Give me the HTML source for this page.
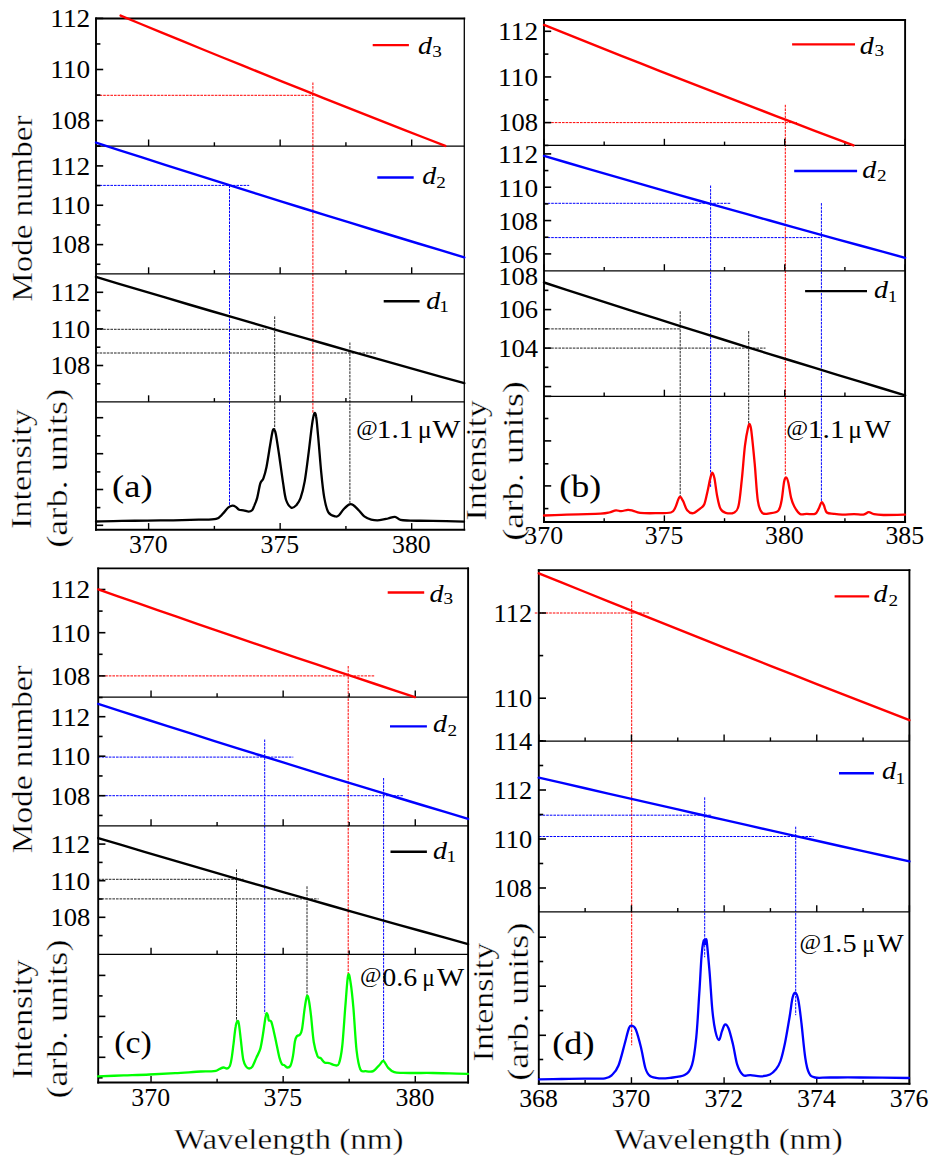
<!DOCTYPE html>
<html><head><meta charset="utf-8"><style>html,body{margin:0;padding:0;background:#fff;overflow:hidden}svg{display:block}</style></head>
<body><svg width="933" height="1162" viewBox="0 0 933 1162">
<rect width="933" height="1162" fill="#fff"/>
<line x1="96.00" y1="95.30" x2="312.90" y2="95.30" stroke="#ff0000" stroke-width="1.0" stroke-dasharray="2.6 1.0"/>
<line x1="312.90" y1="82.50" x2="312.90" y2="413.40" stroke="#ff0000" stroke-width="1.0" stroke-dasharray="2.6 1.0"/>
<line x1="96.00" y1="185.40" x2="249.20" y2="185.40" stroke="#0000ff" stroke-width="1.0" stroke-dasharray="2.6 1.0"/>
<line x1="229.50" y1="185.40" x2="229.50" y2="506.00" stroke="#0000ff" stroke-width="1.0" stroke-dasharray="2.6 1.0"/>
<line x1="96.00" y1="329.30" x2="266.50" y2="329.30" stroke="#222" stroke-width="1.0" stroke-dasharray="2.6 1.0"/>
<line x1="96.00" y1="353.00" x2="376.50" y2="353.00" stroke="#222" stroke-width="1.0" stroke-dasharray="2.6 1.0"/>
<line x1="274.70" y1="316.40" x2="274.70" y2="429.00" stroke="#222" stroke-width="1.0" stroke-dasharray="2.6 1.0"/>
<line x1="349.90" y1="342.50" x2="349.90" y2="503.00" stroke="#222" stroke-width="1.0" stroke-dasharray="2.6 1.0"/>
<line x1="96.00" y1="146.10" x2="464.30" y2="146.10" stroke="#000" stroke-width="1.3" />
<line x1="96.00" y1="273.90" x2="464.30" y2="273.90" stroke="#000" stroke-width="1.3" />
<line x1="96.00" y1="401.90" x2="464.30" y2="401.90" stroke="#000" stroke-width="1.3" />
<line x1="148.61" y1="146.10" x2="148.61" y2="139.50" stroke="#000" stroke-width="1.4" />
<line x1="280.15" y1="146.10" x2="280.15" y2="139.50" stroke="#000" stroke-width="1.4" />
<line x1="411.69" y1="146.10" x2="411.69" y2="139.50" stroke="#000" stroke-width="1.4" />
<line x1="214.38" y1="146.10" x2="214.38" y2="142.30" stroke="#000" stroke-width="1.4" />
<line x1="345.92" y1="146.10" x2="345.92" y2="142.30" stroke="#000" stroke-width="1.4" />
<line x1="148.61" y1="273.90" x2="148.61" y2="267.30" stroke="#000" stroke-width="1.4" />
<line x1="280.15" y1="273.90" x2="280.15" y2="267.30" stroke="#000" stroke-width="1.4" />
<line x1="411.69" y1="273.90" x2="411.69" y2="267.30" stroke="#000" stroke-width="1.4" />
<line x1="214.38" y1="273.90" x2="214.38" y2="270.10" stroke="#000" stroke-width="1.4" />
<line x1="345.92" y1="273.90" x2="345.92" y2="270.10" stroke="#000" stroke-width="1.4" />
<line x1="148.61" y1="401.90" x2="148.61" y2="395.30" stroke="#000" stroke-width="1.4" />
<line x1="280.15" y1="401.90" x2="280.15" y2="395.30" stroke="#000" stroke-width="1.4" />
<line x1="411.69" y1="401.90" x2="411.69" y2="395.30" stroke="#000" stroke-width="1.4" />
<line x1="214.38" y1="401.90" x2="214.38" y2="398.10" stroke="#000" stroke-width="1.4" />
<line x1="345.92" y1="401.90" x2="345.92" y2="398.10" stroke="#000" stroke-width="1.4" />
<line x1="148.61" y1="529.70" x2="148.61" y2="523.10" stroke="#000" stroke-width="1.4" />
<line x1="280.15" y1="529.70" x2="280.15" y2="523.10" stroke="#000" stroke-width="1.4" />
<line x1="411.69" y1="529.70" x2="411.69" y2="523.10" stroke="#000" stroke-width="1.4" />
<line x1="214.38" y1="529.70" x2="214.38" y2="525.90" stroke="#000" stroke-width="1.4" />
<line x1="345.92" y1="529.70" x2="345.92" y2="525.90" stroke="#000" stroke-width="1.4" />
<line x1="96.00" y1="18.50" x2="464.30" y2="18.50" stroke="#000" stroke-width="1.9" stroke-linecap="square"/>
<line x1="96.00" y1="529.70" x2="464.30" y2="529.70" stroke="#000" stroke-width="1.9" stroke-linecap="square"/>
<line x1="96.00" y1="18.50" x2="96.00" y2="529.70" stroke="#000" stroke-width="1.9" stroke-linecap="square"/>
<line x1="464.30" y1="18.50" x2="464.30" y2="529.70" stroke="#000" stroke-width="1.3" stroke-linecap="square"/>
<line x1="96.00" y1="18.40" x2="103.20" y2="18.40" stroke="#000" stroke-width="1.6" />
<line x1="96.00" y1="69.50" x2="103.20" y2="69.50" stroke="#000" stroke-width="1.6" />
<line x1="96.00" y1="120.60" x2="103.20" y2="120.60" stroke="#000" stroke-width="1.6" />
<line x1="96.00" y1="43.95" x2="100.40" y2="43.95" stroke="#000" stroke-width="1.6" />
<line x1="96.00" y1="95.05" x2="100.40" y2="95.05" stroke="#000" stroke-width="1.6" />
<line x1="96.00" y1="146.15" x2="100.40" y2="146.15" stroke="#000" stroke-width="1.6" />
<line x1="96.00" y1="165.90" x2="103.20" y2="165.90" stroke="#000" stroke-width="1.6" />
<line x1="96.00" y1="205.25" x2="103.20" y2="205.25" stroke="#000" stroke-width="1.6" />
<line x1="96.00" y1="244.60" x2="103.20" y2="244.60" stroke="#000" stroke-width="1.6" />
<line x1="96.00" y1="146.23" x2="100.40" y2="146.23" stroke="#000" stroke-width="1.6" />
<line x1="96.00" y1="185.57" x2="100.40" y2="185.57" stroke="#000" stroke-width="1.6" />
<line x1="96.00" y1="224.93" x2="100.40" y2="224.93" stroke="#000" stroke-width="1.6" />
<line x1="96.00" y1="264.27" x2="100.40" y2="264.27" stroke="#000" stroke-width="1.6" />
<line x1="96.00" y1="292.30" x2="103.20" y2="292.30" stroke="#000" stroke-width="1.6" />
<line x1="96.00" y1="328.90" x2="103.20" y2="328.90" stroke="#000" stroke-width="1.6" />
<line x1="96.00" y1="365.50" x2="103.20" y2="365.50" stroke="#000" stroke-width="1.6" />
<line x1="96.00" y1="310.60" x2="100.40" y2="310.60" stroke="#000" stroke-width="1.6" />
<line x1="96.00" y1="347.20" x2="100.40" y2="347.20" stroke="#000" stroke-width="1.6" />
<line x1="96.00" y1="383.80" x2="100.40" y2="383.80" stroke="#000" stroke-width="1.6" />
<line x1="96.00" y1="417.70" x2="103.20" y2="417.70" stroke="#000" stroke-width="1.6" />
<line x1="96.00" y1="453.70" x2="103.20" y2="453.70" stroke="#000" stroke-width="1.6" />
<line x1="96.00" y1="489.50" x2="103.20" y2="489.50" stroke="#000" stroke-width="1.6" />
<line x1="96.00" y1="525.30" x2="103.20" y2="525.30" stroke="#000" stroke-width="1.6" />
<line x1="96.00" y1="435.80" x2="100.40" y2="435.80" stroke="#000" stroke-width="1.6" />
<line x1="96.00" y1="471.90" x2="100.40" y2="471.90" stroke="#000" stroke-width="1.6" />
<line x1="96.00" y1="507.60" x2="100.40" y2="507.60" stroke="#000" stroke-width="1.6" />
<text x="90.30" y="27.20" font-family="Liberation Serif" font-size="24.3" text-anchor="end" textLength="40.00" lengthAdjust="spacingAndGlyphs">112</text>
<text x="90.30" y="78.30" font-family="Liberation Serif" font-size="24.3" text-anchor="end" textLength="40.00" lengthAdjust="spacingAndGlyphs">110</text>
<text x="90.30" y="129.40" font-family="Liberation Serif" font-size="24.3" text-anchor="end" textLength="39.90" lengthAdjust="spacingAndGlyphs">108</text>
<text x="90.30" y="174.70" font-family="Liberation Serif" font-size="24.3" text-anchor="end" textLength="40.00" lengthAdjust="spacingAndGlyphs">112</text>
<text x="90.30" y="214.05" font-family="Liberation Serif" font-size="24.3" text-anchor="end" textLength="40.00" lengthAdjust="spacingAndGlyphs">110</text>
<text x="90.30" y="253.40" font-family="Liberation Serif" font-size="24.3" text-anchor="end" textLength="39.90" lengthAdjust="spacingAndGlyphs">108</text>
<text x="90.30" y="301.10" font-family="Liberation Serif" font-size="24.3" text-anchor="end" textLength="40.00" lengthAdjust="spacingAndGlyphs">112</text>
<text x="90.30" y="337.70" font-family="Liberation Serif" font-size="24.3" text-anchor="end" textLength="40.00" lengthAdjust="spacingAndGlyphs">110</text>
<text x="90.30" y="374.30" font-family="Liberation Serif" font-size="24.3" text-anchor="end" textLength="39.90" lengthAdjust="spacingAndGlyphs">108</text>
<text x="148.31" y="553.00" font-family="Liberation Serif" font-size="24.3" text-anchor="middle" textLength="38.70" lengthAdjust="spacingAndGlyphs">370</text>
<text x="279.85" y="553.00" font-family="Liberation Serif" font-size="24.3" text-anchor="middle" textLength="38.70" lengthAdjust="spacingAndGlyphs">375</text>
<text x="411.39" y="553.00" font-family="Liberation Serif" font-size="24.3" text-anchor="middle" textLength="38.70" lengthAdjust="spacingAndGlyphs">380</text>
<polyline points="120.60,15.60 140.89,24.00 161.19,32.36 181.48,40.69 201.78,48.99 222.07,57.25 242.36,65.47 262.66,73.66 282.95,81.82 303.24,89.95 323.54,98.04 343.83,106.10 364.12,114.12 384.42,122.12 404.71,130.08 425.01,138.00 445.30,145.90" fill="none" stroke="#ff0000" stroke-width="2.4" stroke-linecap="round"/>
<polyline points="96.00,142.60 119.02,150.03 142.04,157.43 165.06,164.79 188.07,172.11 211.09,179.40 234.11,186.66 257.13,193.88 280.15,201.07 303.17,208.23 326.19,215.35 349.21,222.44 372.23,229.50 395.24,236.52 418.26,243.51 441.28,250.47 464.30,257.40" fill="none" stroke="#0000ff" stroke-width="2.4" stroke-linecap="round"/>
<polyline points="96.00,276.90 119.02,283.78 142.04,290.63 165.06,297.44 188.07,304.23 211.09,310.98 234.11,317.70 257.13,324.39 280.15,331.04 303.17,337.67 326.19,344.26 349.21,350.83 372.23,357.36 395.24,363.87 418.26,370.34 441.28,376.79 464.30,383.20" fill="none" stroke="#000" stroke-width="2.4" stroke-linecap="round"/>
<line x1="372.70" y1="45.10" x2="408.90" y2="45.10" stroke="#ff0000" stroke-width="2.4" />
<text x="417.90" y="53.60" font-family="Liberation Serif" font-size="24.5" textLength="14.00" lengthAdjust="spacingAndGlyphs" font-style="italic">d</text>
<text x="432.20" y="56.80" font-family="Liberation Serif" font-size="17" textLength="9.60" lengthAdjust="spacingAndGlyphs">3</text>
<line x1="377.30" y1="177.50" x2="413.70" y2="177.50" stroke="#0000ff" stroke-width="2.4" />
<text x="422.20" y="184.10" font-family="Liberation Serif" font-size="24.5" textLength="14.00" lengthAdjust="spacingAndGlyphs" font-style="italic">d</text>
<text x="436.20" y="187.80" font-family="Liberation Serif" font-size="17" textLength="9.60" lengthAdjust="spacingAndGlyphs">2</text>
<line x1="383.70" y1="301.20" x2="419.60" y2="301.20" stroke="#000" stroke-width="2.4" />
<text x="426.30" y="308.90" font-family="Liberation Serif" font-size="24.5" textLength="14.00" lengthAdjust="spacingAndGlyphs" font-style="italic">d</text>
<text x="439.30" y="311.90" font-family="Liberation Serif" font-size="17" textLength="9.60" lengthAdjust="spacingAndGlyphs">1</text>
<text x="356.34" y="434.50" font-family="Liberation Serif" font-size="22" textLength="21.50" lengthAdjust="spacingAndGlyphs">@</text>
<text x="376.74" y="438.10" font-family="Liberation Serif" font-size="26" textLength="36.65" lengthAdjust="spacingAndGlyphs">1.1</text>
<text x="417.68" y="438.10" font-family="Liberation Serif" font-size="26" textLength="14.08" lengthAdjust="spacingAndGlyphs">μ</text>
<text x="432.60" y="438.10" font-family="Liberation Serif" font-size="26" textLength="27.89" lengthAdjust="spacingAndGlyphs">W</text>
<text x="112.06" y="496.90" font-family="Liberation Serif" font-size="32" textLength="40.57" lengthAdjust="spacingAndGlyphs">(a)</text>
<text transform="translate(32.20,301.70) rotate(-90)" x="0" y="0" font-family="Liberation Serif" font-size="29.5" textLength="186.10" lengthAdjust="spacingAndGlyphs" stroke="#fff" stroke-width="0.35">Mode number</text>
<text transform="translate(31.00,529.10) rotate(-90)" x="0" y="0" font-family="Liberation Serif" font-size="28.5" textLength="120.10" lengthAdjust="spacingAndGlyphs" stroke="#fff" stroke-width="0.35">Intensity</text>
<text transform="translate(66.60,547.80) rotate(-90)" x="0" y="0" font-family="Liberation Serif" font-size="28.5" textLength="159.10" lengthAdjust="spacingAndGlyphs" stroke="#fff" stroke-width="0.35">(arb. units)</text>
<path d="M96.0,521.5 C100.3,521.4 113.1,521.0 121.7,520.9 C130.3,520.8 138.9,520.7 147.5,520.6 C156.1,520.5 164.6,520.4 173.2,520.3 C181.8,520.1 191.8,519.9 198.9,519.7 C206.1,519.5 212.1,519.9 216.1,518.9 C220.1,517.9 220.9,515.6 222.9,513.7 C224.9,511.8 226.5,509.0 228.1,507.7 C229.7,506.4 231.1,505.8 232.4,505.7 C233.7,505.6 234.7,506.2 235.8,506.9 C236.9,507.6 237.9,509.2 239.2,509.8 C240.5,510.4 241.9,510.0 243.5,510.3 C245.1,510.6 247.3,511.7 248.7,511.7 C250.1,511.7 251.2,511.2 252.1,510.3 C253.0,509.4 253.2,508.2 254.1,506.1 C254.9,504.0 256.2,501.7 257.2,497.9 C258.2,494.1 259.3,486.7 260.3,483.4 C261.3,480.1 262.4,481.1 263.4,478.3 C264.4,475.6 265.5,471.9 266.5,466.9 C267.5,461.9 268.7,454.0 269.6,448.3 C270.6,442.6 271.5,436.1 272.2,432.9 C272.9,429.7 273.3,429.1 273.9,429.3 C274.5,429.5 275.0,429.9 275.8,433.9 C276.6,437.9 277.7,445.4 278.9,453.5 C280.1,461.6 281.8,474.6 283.0,482.4 C284.2,490.1 284.7,495.8 286.1,500.0 C287.5,504.2 289.6,506.8 291.3,507.7 C293.0,508.6 294.8,506.7 296.4,505.1 C297.9,503.5 299.2,501.8 300.6,497.9 C302.0,493.9 303.3,489.1 304.7,481.4 C306.1,473.6 307.6,460.7 308.8,451.4 C310.0,442.1 311.0,431.9 311.9,425.6 C312.8,419.3 313.5,415.3 314.2,413.8 C314.9,412.3 315.5,412.7 316.1,416.4 C316.8,420.1 317.2,426.7 318.1,436.0 C319.0,445.3 320.2,461.8 321.2,472.1 C322.2,482.4 323.1,491.2 324.3,497.9 C325.5,504.6 326.5,509.2 328.4,512.3 C330.3,515.4 333.9,516.0 335.7,516.5 C337.5,517.0 337.9,516.2 339.2,515.0 C340.5,513.8 341.8,511.2 343.4,509.5 C345.0,507.8 347.3,505.4 348.9,504.6 C350.5,503.8 351.5,504.0 353.1,504.9 C354.7,505.8 356.8,508.3 358.7,510.2 C360.6,512.1 362.2,514.8 364.3,516.4 C366.4,518.0 368.6,519.0 371.2,519.6 C373.8,520.2 376.8,520.4 379.6,520.2 C382.4,520.0 385.4,519.1 388.0,518.5 C390.6,517.9 392.8,516.6 394.9,516.8 C397.0,517.0 397.9,519.3 400.5,519.9 C403.1,520.5 404.9,520.4 410.2,520.6 C415.5,520.8 423.5,520.7 432.5,520.9 C441.5,521.1 458.8,521.5 464.0,521.6" fill="none" stroke="#000" stroke-width="2.3" stroke-linejoin="round" stroke-linecap="round"/>
<line x1="544.00" y1="122.60" x2="796.90" y2="122.60" stroke="#ff0000" stroke-width="1.0" stroke-dasharray="2.6 1.0"/>
<line x1="785.30" y1="104.80" x2="785.30" y2="474.50" stroke="#ff0000" stroke-width="1.0" stroke-dasharray="2.6 1.0"/>
<line x1="544.00" y1="203.30" x2="731.10" y2="203.30" stroke="#0000ff" stroke-width="1.0" stroke-dasharray="2.6 1.0"/>
<line x1="544.00" y1="237.60" x2="821.40" y2="237.60" stroke="#0000ff" stroke-width="1.0" stroke-dasharray="2.6 1.0"/>
<line x1="710.60" y1="185.50" x2="710.60" y2="487.70" stroke="#0000ff" stroke-width="1.0" stroke-dasharray="2.6 1.0"/>
<line x1="821.40" y1="203.10" x2="821.40" y2="503.40" stroke="#0000ff" stroke-width="1.0" stroke-dasharray="2.6 1.0"/>
<line x1="544.00" y1="328.90" x2="680.20" y2="328.90" stroke="#222" stroke-width="1.0" stroke-dasharray="2.6 1.0"/>
<line x1="544.00" y1="348.10" x2="765.50" y2="348.10" stroke="#222" stroke-width="1.0" stroke-dasharray="2.6 1.0"/>
<line x1="680.20" y1="311.30" x2="680.20" y2="497.30" stroke="#222" stroke-width="1.0" stroke-dasharray="2.6 1.0"/>
<line x1="748.70" y1="331.10" x2="748.70" y2="424.60" stroke="#222" stroke-width="1.0" stroke-dasharray="2.6 1.0"/>
<line x1="544.00" y1="145.40" x2="905.10" y2="145.40" stroke="#000" stroke-width="1.3" />
<line x1="544.00" y1="270.80" x2="905.10" y2="270.80" stroke="#000" stroke-width="1.3" />
<line x1="544.00" y1="396.30" x2="905.10" y2="396.30" stroke="#000" stroke-width="1.3" />
<line x1="544.00" y1="145.40" x2="544.00" y2="138.80" stroke="#000" stroke-width="1.4" />
<line x1="664.37" y1="145.40" x2="664.37" y2="138.80" stroke="#000" stroke-width="1.4" />
<line x1="784.73" y1="145.40" x2="784.73" y2="138.80" stroke="#000" stroke-width="1.4" />
<line x1="905.10" y1="145.40" x2="905.10" y2="138.80" stroke="#000" stroke-width="1.4" />
<line x1="604.18" y1="145.40" x2="604.18" y2="141.60" stroke="#000" stroke-width="1.4" />
<line x1="724.55" y1="145.40" x2="724.55" y2="141.60" stroke="#000" stroke-width="1.4" />
<line x1="844.92" y1="145.40" x2="844.92" y2="141.60" stroke="#000" stroke-width="1.4" />
<line x1="544.00" y1="270.80" x2="544.00" y2="264.20" stroke="#000" stroke-width="1.4" />
<line x1="664.37" y1="270.80" x2="664.37" y2="264.20" stroke="#000" stroke-width="1.4" />
<line x1="784.73" y1="270.80" x2="784.73" y2="264.20" stroke="#000" stroke-width="1.4" />
<line x1="905.10" y1="270.80" x2="905.10" y2="264.20" stroke="#000" stroke-width="1.4" />
<line x1="604.18" y1="270.80" x2="604.18" y2="267.00" stroke="#000" stroke-width="1.4" />
<line x1="724.55" y1="270.80" x2="724.55" y2="267.00" stroke="#000" stroke-width="1.4" />
<line x1="844.92" y1="270.80" x2="844.92" y2="267.00" stroke="#000" stroke-width="1.4" />
<line x1="544.00" y1="396.30" x2="544.00" y2="389.70" stroke="#000" stroke-width="1.4" />
<line x1="664.37" y1="396.30" x2="664.37" y2="389.70" stroke="#000" stroke-width="1.4" />
<line x1="784.73" y1="396.30" x2="784.73" y2="389.70" stroke="#000" stroke-width="1.4" />
<line x1="905.10" y1="396.30" x2="905.10" y2="389.70" stroke="#000" stroke-width="1.4" />
<line x1="604.18" y1="396.30" x2="604.18" y2="392.50" stroke="#000" stroke-width="1.4" />
<line x1="724.55" y1="396.30" x2="724.55" y2="392.50" stroke="#000" stroke-width="1.4" />
<line x1="844.92" y1="396.30" x2="844.92" y2="392.50" stroke="#000" stroke-width="1.4" />
<line x1="544.00" y1="522.00" x2="544.00" y2="515.40" stroke="#000" stroke-width="1.4" />
<line x1="664.37" y1="522.00" x2="664.37" y2="515.40" stroke="#000" stroke-width="1.4" />
<line x1="784.73" y1="522.00" x2="784.73" y2="515.40" stroke="#000" stroke-width="1.4" />
<line x1="905.10" y1="522.00" x2="905.10" y2="515.40" stroke="#000" stroke-width="1.4" />
<line x1="604.18" y1="522.00" x2="604.18" y2="518.20" stroke="#000" stroke-width="1.4" />
<line x1="724.55" y1="522.00" x2="724.55" y2="518.20" stroke="#000" stroke-width="1.4" />
<line x1="844.92" y1="522.00" x2="844.92" y2="518.20" stroke="#000" stroke-width="1.4" />
<line x1="544.00" y1="20.00" x2="905.10" y2="20.00" stroke="#000" stroke-width="1.9" stroke-linecap="square"/>
<line x1="544.00" y1="522.00" x2="905.10" y2="522.00" stroke="#000" stroke-width="1.9" stroke-linecap="square"/>
<line x1="544.00" y1="20.00" x2="544.00" y2="522.00" stroke="#000" stroke-width="1.9" stroke-linecap="square"/>
<line x1="905.10" y1="20.00" x2="905.10" y2="522.00" stroke="#000" stroke-width="1.9" stroke-linecap="square"/>
<line x1="544.00" y1="31.30" x2="551.20" y2="31.30" stroke="#000" stroke-width="1.6" />
<line x1="544.00" y1="76.95" x2="551.20" y2="76.95" stroke="#000" stroke-width="1.6" />
<line x1="544.00" y1="122.60" x2="551.20" y2="122.60" stroke="#000" stroke-width="1.6" />
<line x1="544.00" y1="54.12" x2="548.40" y2="54.12" stroke="#000" stroke-width="1.6" />
<line x1="544.00" y1="99.77" x2="548.40" y2="99.77" stroke="#000" stroke-width="1.6" />
<line x1="544.00" y1="145.43" x2="548.40" y2="145.43" stroke="#000" stroke-width="1.6" />
<line x1="544.00" y1="153.90" x2="551.20" y2="153.90" stroke="#000" stroke-width="1.6" />
<line x1="544.00" y1="187.23" x2="551.20" y2="187.23" stroke="#000" stroke-width="1.6" />
<line x1="544.00" y1="220.57" x2="551.20" y2="220.57" stroke="#000" stroke-width="1.6" />
<line x1="544.00" y1="253.90" x2="551.20" y2="253.90" stroke="#000" stroke-width="1.6" />
<line x1="544.00" y1="170.57" x2="548.40" y2="170.57" stroke="#000" stroke-width="1.6" />
<line x1="544.00" y1="203.90" x2="548.40" y2="203.90" stroke="#000" stroke-width="1.6" />
<line x1="544.00" y1="237.23" x2="548.40" y2="237.23" stroke="#000" stroke-width="1.6" />
<line x1="544.00" y1="309.60" x2="551.20" y2="309.60" stroke="#000" stroke-width="1.6" />
<line x1="544.00" y1="348.10" x2="551.20" y2="348.10" stroke="#000" stroke-width="1.6" />
<line x1="544.00" y1="386.60" x2="551.20" y2="386.60" stroke="#000" stroke-width="1.6" />
<line x1="544.00" y1="290.35" x2="548.40" y2="290.35" stroke="#000" stroke-width="1.6" />
<line x1="544.00" y1="328.85" x2="548.40" y2="328.85" stroke="#000" stroke-width="1.6" />
<line x1="544.00" y1="367.35" x2="548.40" y2="367.35" stroke="#000" stroke-width="1.6" />
<line x1="544.00" y1="396.30" x2="551.20" y2="396.30" stroke="#000" stroke-width="1.6" />
<line x1="544.00" y1="440.90" x2="551.20" y2="440.90" stroke="#000" stroke-width="1.6" />
<line x1="544.00" y1="485.90" x2="551.20" y2="485.90" stroke="#000" stroke-width="1.6" />
<line x1="544.00" y1="418.50" x2="548.40" y2="418.50" stroke="#000" stroke-width="1.6" />
<line x1="544.00" y1="463.80" x2="548.40" y2="463.80" stroke="#000" stroke-width="1.6" />
<line x1="544.00" y1="508.60" x2="548.40" y2="508.60" stroke="#000" stroke-width="1.6" />
<text x="538.10" y="40.10" font-family="Liberation Serif" font-size="24.3" text-anchor="end" textLength="40.00" lengthAdjust="spacingAndGlyphs">112</text>
<text x="538.10" y="85.75" font-family="Liberation Serif" font-size="24.3" text-anchor="end" textLength="40.00" lengthAdjust="spacingAndGlyphs">110</text>
<text x="538.10" y="131.40" font-family="Liberation Serif" font-size="24.3" text-anchor="end" textLength="39.90" lengthAdjust="spacingAndGlyphs">108</text>
<text x="538.10" y="163.40" font-family="Liberation Serif" font-size="24.3" text-anchor="end" textLength="40.00" lengthAdjust="spacingAndGlyphs">112</text>
<text x="538.10" y="196.73" font-family="Liberation Serif" font-size="24.3" text-anchor="end" textLength="40.00" lengthAdjust="spacingAndGlyphs">110</text>
<text x="538.10" y="230.07" font-family="Liberation Serif" font-size="24.3" text-anchor="end" textLength="39.90" lengthAdjust="spacingAndGlyphs">108</text>
<text x="538.10" y="263.40" font-family="Liberation Serif" font-size="24.3" text-anchor="end" textLength="39.90" lengthAdjust="spacingAndGlyphs">106</text>
<text x="538.10" y="284.90" font-family="Liberation Serif" font-size="24.3" text-anchor="end" textLength="39.90" lengthAdjust="spacingAndGlyphs">108</text>
<text x="538.10" y="318.40" font-family="Liberation Serif" font-size="24.3" text-anchor="end" textLength="39.90" lengthAdjust="spacingAndGlyphs">106</text>
<text x="538.10" y="356.90" font-family="Liberation Serif" font-size="24.3" text-anchor="end" textLength="39.90" lengthAdjust="spacingAndGlyphs">104</text>
<text x="543.70" y="543.90" font-family="Liberation Serif" font-size="24.3" text-anchor="middle" textLength="38.70" lengthAdjust="spacingAndGlyphs">370</text>
<text x="664.07" y="543.90" font-family="Liberation Serif" font-size="24.3" text-anchor="middle" textLength="38.70" lengthAdjust="spacingAndGlyphs">375</text>
<text x="784.43" y="543.90" font-family="Liberation Serif" font-size="24.3" text-anchor="middle" textLength="38.70" lengthAdjust="spacingAndGlyphs">380</text>
<text x="904.80" y="543.90" font-family="Liberation Serif" font-size="24.3" text-anchor="middle" textLength="38.70" lengthAdjust="spacingAndGlyphs">385</text>
<polyline points="544.00,24.90 563.34,32.68 582.69,40.42 602.03,48.13 621.38,55.80 640.72,63.45 660.06,71.06 679.41,78.63 698.75,86.18 718.09,93.69 737.44,101.17 756.78,108.62 776.12,116.04 795.47,123.43 814.81,130.78 834.16,138.11 853.50,145.40" fill="none" stroke="#ff0000" stroke-width="2.4" stroke-linecap="round"/>
<polyline points="544.00,155.90 566.57,162.51 589.14,169.09 611.71,175.63 634.27,182.14 656.84,188.62 679.41,195.07 701.98,201.48 724.55,207.86 747.12,214.21 769.69,220.53 792.26,226.82 814.83,233.08 837.39,239.30 859.96,245.50 882.53,251.66 905.10,257.80" fill="none" stroke="#0000ff" stroke-width="2.4" stroke-linecap="round"/>
<polyline points="544.00,282.50 566.57,289.82 589.14,297.10 611.71,304.34 634.27,311.55 656.84,318.72 679.41,325.86 701.98,332.96 724.55,340.02 747.12,347.05 769.69,354.05 792.26,361.01 814.83,367.93 837.39,374.82 859.96,381.68 882.53,388.51 905.10,395.30" fill="none" stroke="#000" stroke-width="2.4" stroke-linecap="round"/>
<line x1="792.10" y1="44.40" x2="855.00" y2="44.40" stroke="#ff0000" stroke-width="2.4" />
<text x="859.70" y="54.00" font-family="Liberation Serif" font-size="24.5" textLength="14.00" lengthAdjust="spacingAndGlyphs" font-style="italic">d</text>
<text x="874.60" y="56.20" font-family="Liberation Serif" font-size="17" textLength="9.60" lengthAdjust="spacingAndGlyphs">3</text>
<line x1="794.20" y1="171.00" x2="857.10" y2="171.00" stroke="#0000ff" stroke-width="2.4" />
<text x="862.20" y="177.70" font-family="Liberation Serif" font-size="24.5" textLength="14.00" lengthAdjust="spacingAndGlyphs" font-style="italic">d</text>
<text x="877.10" y="180.80" font-family="Liberation Serif" font-size="17" textLength="9.60" lengthAdjust="spacingAndGlyphs">2</text>
<line x1="805.10" y1="291.10" x2="867.00" y2="291.10" stroke="#000" stroke-width="2.4" />
<text x="874.10" y="297.50" font-family="Liberation Serif" font-size="24.5" textLength="14.00" lengthAdjust="spacingAndGlyphs" font-style="italic">d</text>
<text x="887.80" y="302.00" font-family="Liberation Serif" font-size="17" textLength="9.60" lengthAdjust="spacingAndGlyphs">1</text>
<text x="786.32" y="434.50" font-family="Liberation Serif" font-size="22" textLength="21.84" lengthAdjust="spacingAndGlyphs">@</text>
<text x="807.83" y="438.10" font-family="Liberation Serif" font-size="26" textLength="36.87" lengthAdjust="spacingAndGlyphs">1.1</text>
<text x="848.34" y="438.10" font-family="Liberation Serif" font-size="26" textLength="13.70" lengthAdjust="spacingAndGlyphs">μ</text>
<text x="864.40" y="438.10" font-family="Liberation Serif" font-size="26" textLength="26.31" lengthAdjust="spacingAndGlyphs">W</text>
<text x="559.17" y="496.90" font-family="Liberation Serif" font-size="32" textLength="42.00" lengthAdjust="spacingAndGlyphs">(b)</text>
<text transform="translate(486.30,520.60) rotate(-90)" x="0" y="0" font-family="Liberation Serif" font-size="28.5" textLength="120.20" lengthAdjust="spacingAndGlyphs" stroke="#fff" stroke-width="0.35">Intensity</text>
<text transform="translate(522.70,540.80) rotate(-90)" x="0" y="0" font-family="Liberation Serif" font-size="28.5" textLength="159.80" lengthAdjust="spacingAndGlyphs" stroke="#fff" stroke-width="0.35">(arb. units)</text>
<path d="M544.0,515.5 C546.9,515.4 555.5,515.1 561.2,514.9 C566.9,514.7 571.7,514.5 578.3,514.3 C584.9,514.1 595.5,514.0 600.6,513.7 C605.8,513.4 606.6,513.1 609.2,512.5 C611.8,511.9 614.0,510.5 616.0,510.3 C618.0,510.1 619.2,511.3 621.2,511.2 C623.2,511.1 626.0,509.9 628.0,509.8 C630.0,509.7 631.2,510.3 633.2,510.8 C635.2,511.3 636.4,512.5 640.1,512.9 C643.8,513.3 650.4,513.3 655.5,513.2 C660.6,513.1 667.6,513.4 670.9,512.5 C674.2,511.6 673.8,510.3 675.2,507.7 C676.6,505.1 678.2,498.2 679.5,497.1 C680.8,496.0 681.7,498.7 683.0,500.9 C684.3,503.1 685.5,508.2 687.2,510.3 C688.9,512.4 691.1,513.5 693.2,513.2 C695.4,512.9 698.2,510.1 700.1,508.6 C702.0,507.1 703.1,507.2 704.3,504.3 C705.5,501.4 706.5,495.8 707.5,491.5 C708.5,487.2 709.4,481.7 710.2,478.6 C711.0,475.5 711.6,472.7 712.3,472.7 C713.0,472.7 713.7,474.8 714.5,478.6 C715.3,482.4 716.1,490.7 717.1,495.7 C718.1,500.7 719.0,505.7 720.4,508.6 C721.8,511.5 723.4,512.3 725.7,512.9 C728.0,513.5 732.1,513.6 734.3,512.4 C736.4,511.1 737.4,510.8 738.6,505.4 C739.9,499.9 740.7,489.7 741.8,479.7 C742.9,469.7 743.9,454.2 745.0,445.4 C746.1,436.6 747.4,430.6 748.2,427.1 C749.0,423.6 749.3,423.8 749.8,424.5 C750.3,425.2 750.6,424.9 751.4,431.4 C752.2,437.9 753.6,452.0 754.7,463.6 C755.8,475.2 756.6,492.9 757.9,501.1 C759.1,509.3 760.2,510.8 762.2,512.9 C764.2,514.9 767.0,513.8 769.7,513.4 C772.4,513.0 776.2,512.9 778.2,510.8 C780.2,508.8 780.5,505.9 781.5,501.1 C782.5,496.3 783.3,485.7 784.1,481.8 C784.9,477.9 785.6,477.3 786.3,477.5 C787.0,477.7 787.6,479.5 788.4,482.9 C789.2,486.3 790.1,494.0 791.1,497.9 C792.1,501.8 792.8,503.8 794.3,506.5 C795.8,509.2 797.9,512.8 800.0,514.0 C802.1,515.2 804.3,513.9 806.8,513.9 C809.3,513.9 813.0,514.7 815.0,513.9 C817.0,513.1 817.5,510.8 818.6,508.9 C819.7,507.0 820.6,503.0 821.5,502.4 C822.4,501.8 823.0,503.7 823.9,505.4 C824.8,507.1 825.1,511.1 826.8,512.5 C828.5,513.9 831.3,513.5 833.9,513.9 C836.5,514.2 838.9,514.5 842.2,514.6 C845.6,514.7 850.5,514.2 854.0,514.2 C857.5,514.2 860.9,514.9 863.4,514.6 C865.9,514.3 866.9,512.3 868.7,512.2 C870.5,512.1 871.5,513.7 874.0,514.2 C876.5,514.7 878.2,514.9 883.4,515.0 C888.6,515.1 901.4,514.7 905.0,514.6" fill="none" stroke="#ff0000" stroke-width="2.3" stroke-linejoin="round" stroke-linecap="round"/>
<line x1="98.00" y1="675.90" x2="374.70" y2="675.90" stroke="#ff0000" stroke-width="1.0" stroke-dasharray="2.6 1.0"/>
<line x1="348.20" y1="666.00" x2="348.20" y2="974.20" stroke="#ff0000" stroke-width="1.0" stroke-dasharray="2.6 1.0"/>
<line x1="98.00" y1="757.10" x2="293.30" y2="757.10" stroke="#0000ff" stroke-width="1.0" stroke-dasharray="2.6 1.0"/>
<line x1="98.00" y1="795.70" x2="402.90" y2="795.70" stroke="#0000ff" stroke-width="1.0" stroke-dasharray="2.6 1.0"/>
<line x1="264.70" y1="739.50" x2="264.70" y2="1013.50" stroke="#0000ff" stroke-width="1.0" stroke-dasharray="2.6 1.0"/>
<line x1="383.60" y1="778.00" x2="383.60" y2="1061.00" stroke="#0000ff" stroke-width="1.0" stroke-dasharray="2.6 1.0"/>
<line x1="98.00" y1="879.30" x2="243.50" y2="879.30" stroke="#222" stroke-width="1.0" stroke-dasharray="2.6 1.0"/>
<line x1="98.00" y1="898.90" x2="318.60" y2="898.90" stroke="#222" stroke-width="1.0" stroke-dasharray="2.6 1.0"/>
<line x1="236.50" y1="869.40" x2="236.50" y2="1021.20" stroke="#222" stroke-width="1.0" stroke-dasharray="2.6 1.0"/>
<line x1="307.00" y1="886.30" x2="307.00" y2="995.90" stroke="#222" stroke-width="1.0" stroke-dasharray="2.6 1.0"/>
<line x1="98.20" y1="697.10" x2="468.10" y2="697.10" stroke="#000" stroke-width="1.3" />
<line x1="98.20" y1="825.90" x2="468.10" y2="825.90" stroke="#000" stroke-width="1.3" />
<line x1="98.20" y1="954.30" x2="468.10" y2="954.30" stroke="#000" stroke-width="1.3" />
<line x1="151.04" y1="697.10" x2="151.04" y2="690.50" stroke="#000" stroke-width="1.4" />
<line x1="283.15" y1="697.10" x2="283.15" y2="690.50" stroke="#000" stroke-width="1.4" />
<line x1="415.26" y1="697.10" x2="415.26" y2="690.50" stroke="#000" stroke-width="1.4" />
<line x1="217.10" y1="697.10" x2="217.10" y2="693.30" stroke="#000" stroke-width="1.4" />
<line x1="349.20" y1="697.10" x2="349.20" y2="693.30" stroke="#000" stroke-width="1.4" />
<line x1="151.04" y1="825.90" x2="151.04" y2="819.30" stroke="#000" stroke-width="1.4" />
<line x1="283.15" y1="825.90" x2="283.15" y2="819.30" stroke="#000" stroke-width="1.4" />
<line x1="415.26" y1="825.90" x2="415.26" y2="819.30" stroke="#000" stroke-width="1.4" />
<line x1="217.10" y1="825.90" x2="217.10" y2="822.10" stroke="#000" stroke-width="1.4" />
<line x1="349.20" y1="825.90" x2="349.20" y2="822.10" stroke="#000" stroke-width="1.4" />
<line x1="151.04" y1="954.30" x2="151.04" y2="947.70" stroke="#000" stroke-width="1.4" />
<line x1="283.15" y1="954.30" x2="283.15" y2="947.70" stroke="#000" stroke-width="1.4" />
<line x1="415.26" y1="954.30" x2="415.26" y2="947.70" stroke="#000" stroke-width="1.4" />
<line x1="217.10" y1="954.30" x2="217.10" y2="950.50" stroke="#000" stroke-width="1.4" />
<line x1="349.20" y1="954.30" x2="349.20" y2="950.50" stroke="#000" stroke-width="1.4" />
<line x1="151.04" y1="1082.50" x2="151.04" y2="1075.90" stroke="#000" stroke-width="1.4" />
<line x1="283.15" y1="1082.50" x2="283.15" y2="1075.90" stroke="#000" stroke-width="1.4" />
<line x1="415.26" y1="1082.50" x2="415.26" y2="1075.90" stroke="#000" stroke-width="1.4" />
<line x1="217.10" y1="1082.50" x2="217.10" y2="1078.70" stroke="#000" stroke-width="1.4" />
<line x1="349.20" y1="1082.50" x2="349.20" y2="1078.70" stroke="#000" stroke-width="1.4" />
<line x1="98.20" y1="568.40" x2="468.10" y2="568.40" stroke="#000" stroke-width="1.9" stroke-linecap="square"/>
<line x1="98.20" y1="1082.50" x2="468.10" y2="1082.50" stroke="#000" stroke-width="1.9" stroke-linecap="square"/>
<line x1="98.20" y1="568.40" x2="98.20" y2="1082.50" stroke="#000" stroke-width="1.9" stroke-linecap="square"/>
<line x1="468.10" y1="568.40" x2="468.10" y2="1082.50" stroke="#000" stroke-width="1.9" stroke-linecap="square"/>
<line x1="98.20" y1="589.50" x2="105.40" y2="589.50" stroke="#000" stroke-width="1.6" />
<line x1="98.20" y1="632.70" x2="105.40" y2="632.70" stroke="#000" stroke-width="1.6" />
<line x1="98.20" y1="675.90" x2="105.40" y2="675.90" stroke="#000" stroke-width="1.6" />
<line x1="98.20" y1="611.10" x2="102.60" y2="611.10" stroke="#000" stroke-width="1.6" />
<line x1="98.20" y1="654.30" x2="102.60" y2="654.30" stroke="#000" stroke-width="1.6" />
<line x1="98.20" y1="697.50" x2="102.60" y2="697.50" stroke="#000" stroke-width="1.6" />
<line x1="98.20" y1="716.70" x2="105.40" y2="716.70" stroke="#000" stroke-width="1.6" />
<line x1="98.20" y1="756.20" x2="105.40" y2="756.20" stroke="#000" stroke-width="1.6" />
<line x1="98.20" y1="795.70" x2="105.40" y2="795.70" stroke="#000" stroke-width="1.6" />
<line x1="98.20" y1="736.45" x2="102.60" y2="736.45" stroke="#000" stroke-width="1.6" />
<line x1="98.20" y1="775.95" x2="102.60" y2="775.95" stroke="#000" stroke-width="1.6" />
<line x1="98.20" y1="815.45" x2="102.60" y2="815.45" stroke="#000" stroke-width="1.6" />
<line x1="98.20" y1="844.10" x2="105.40" y2="844.10" stroke="#000" stroke-width="1.6" />
<line x1="98.20" y1="880.70" x2="105.40" y2="880.70" stroke="#000" stroke-width="1.6" />
<line x1="98.20" y1="917.30" x2="105.40" y2="917.30" stroke="#000" stroke-width="1.6" />
<line x1="98.20" y1="862.40" x2="102.60" y2="862.40" stroke="#000" stroke-width="1.6" />
<line x1="98.20" y1="899.00" x2="102.60" y2="899.00" stroke="#000" stroke-width="1.6" />
<line x1="98.20" y1="935.60" x2="102.60" y2="935.60" stroke="#000" stroke-width="1.6" />
<line x1="98.20" y1="975.40" x2="105.40" y2="975.40" stroke="#000" stroke-width="1.6" />
<line x1="98.20" y1="1016.40" x2="105.40" y2="1016.40" stroke="#000" stroke-width="1.6" />
<line x1="98.20" y1="1057.30" x2="105.40" y2="1057.30" stroke="#000" stroke-width="1.6" />
<line x1="98.20" y1="995.90" x2="102.60" y2="995.90" stroke="#000" stroke-width="1.6" />
<line x1="98.20" y1="1036.90" x2="102.60" y2="1036.90" stroke="#000" stroke-width="1.6" />
<line x1="98.20" y1="1077.80" x2="102.60" y2="1077.80" stroke="#000" stroke-width="1.6" />
<text x="90.30" y="598.30" font-family="Liberation Serif" font-size="24.3" text-anchor="end" textLength="40.00" lengthAdjust="spacingAndGlyphs">112</text>
<text x="90.30" y="641.50" font-family="Liberation Serif" font-size="24.3" text-anchor="end" textLength="40.00" lengthAdjust="spacingAndGlyphs">110</text>
<text x="90.30" y="684.70" font-family="Liberation Serif" font-size="24.3" text-anchor="end" textLength="39.90" lengthAdjust="spacingAndGlyphs">108</text>
<text x="90.30" y="725.50" font-family="Liberation Serif" font-size="24.3" text-anchor="end" textLength="40.00" lengthAdjust="spacingAndGlyphs">112</text>
<text x="90.30" y="765.00" font-family="Liberation Serif" font-size="24.3" text-anchor="end" textLength="40.00" lengthAdjust="spacingAndGlyphs">110</text>
<text x="90.30" y="804.50" font-family="Liberation Serif" font-size="24.3" text-anchor="end" textLength="39.90" lengthAdjust="spacingAndGlyphs">108</text>
<text x="90.30" y="852.90" font-family="Liberation Serif" font-size="24.3" text-anchor="end" textLength="40.00" lengthAdjust="spacingAndGlyphs">112</text>
<text x="90.30" y="889.50" font-family="Liberation Serif" font-size="24.3" text-anchor="end" textLength="40.00" lengthAdjust="spacingAndGlyphs">110</text>
<text x="90.30" y="926.10" font-family="Liberation Serif" font-size="24.3" text-anchor="end" textLength="39.90" lengthAdjust="spacingAndGlyphs">108</text>
<text x="150.74" y="1106.00" font-family="Liberation Serif" font-size="24.3" text-anchor="middle" textLength="38.70" lengthAdjust="spacingAndGlyphs">370</text>
<text x="282.85" y="1106.00" font-family="Liberation Serif" font-size="24.3" text-anchor="middle" textLength="38.70" lengthAdjust="spacingAndGlyphs">375</text>
<text x="414.96" y="1106.00" font-family="Liberation Serif" font-size="24.3" text-anchor="middle" textLength="38.70" lengthAdjust="spacingAndGlyphs">380</text>
<polyline points="98.20,589.40 117.99,596.34 137.79,603.24 157.58,610.12 177.38,616.98 197.17,623.80 216.96,630.60 236.76,637.37 256.55,644.11 276.34,650.83 296.14,657.52 315.93,664.18 335.72,670.82 355.52,677.43 375.31,684.01 395.11,690.57 414.90,697.10" fill="none" stroke="#ff0000" stroke-width="2.4" stroke-linecap="round"/>
<polyline points="98.20,703.90 121.32,711.34 144.44,718.75 167.56,726.12 190.68,733.46 213.79,740.77 236.91,748.04 260.03,755.27 283.15,762.47 306.27,769.64 329.39,776.78 352.51,783.88 375.62,790.95 398.74,797.98 421.86,804.99 444.98,811.96 468.10,818.90" fill="none" stroke="#0000ff" stroke-width="2.4" stroke-linecap="round"/>
<polyline points="98.20,838.10 121.32,844.96 144.44,851.79 167.56,858.58 190.68,865.35 213.79,872.08 236.91,878.78 260.03,885.45 283.15,892.09 306.27,898.70 329.39,905.27 352.51,911.82 375.62,918.34 398.74,924.82 421.86,931.28 444.98,937.70 468.10,944.10" fill="none" stroke="#000" stroke-width="2.4" stroke-linecap="round"/>
<line x1="387.70" y1="592.50" x2="424.20" y2="592.50" stroke="#ff0000" stroke-width="2.4" />
<text x="429.50" y="602.30" font-family="Liberation Serif" font-size="24.5" textLength="14.00" lengthAdjust="spacingAndGlyphs" font-style="italic">d</text>
<text x="443.40" y="604.00" font-family="Liberation Serif" font-size="17" textLength="9.60" lengthAdjust="spacingAndGlyphs">3</text>
<line x1="390.00" y1="726.40" x2="426.90" y2="726.40" stroke="#0000ff" stroke-width="2.4" />
<text x="433.10" y="732.30" font-family="Liberation Serif" font-size="24.5" textLength="14.00" lengthAdjust="spacingAndGlyphs" font-style="italic">d</text>
<text x="447.50" y="736.40" font-family="Liberation Serif" font-size="17" textLength="9.60" lengthAdjust="spacingAndGlyphs">2</text>
<line x1="390.50" y1="851.70" x2="426.90" y2="851.70" stroke="#000" stroke-width="2.4" />
<text x="433.10" y="858.90" font-family="Liberation Serif" font-size="24.5" textLength="14.00" lengthAdjust="spacingAndGlyphs" font-style="italic">d</text>
<text x="446.60" y="862.30" font-family="Liberation Serif" font-size="17" textLength="9.60" lengthAdjust="spacingAndGlyphs">1</text>
<text x="360.14" y="982.30" font-family="Liberation Serif" font-size="22" textLength="21.50" lengthAdjust="spacingAndGlyphs">@</text>
<text x="382.33" y="985.90" font-family="Liberation Serif" font-size="26" textLength="34.91" lengthAdjust="spacingAndGlyphs">0.6</text>
<text x="422.20" y="985.90" font-family="Liberation Serif" font-size="26" textLength="12.56" lengthAdjust="spacingAndGlyphs">μ</text>
<text x="437.00" y="985.90" font-family="Liberation Serif" font-size="26" textLength="27.20" lengthAdjust="spacingAndGlyphs">W</text>
<text x="114.24" y="1052.60" font-family="Liberation Serif" font-size="32" textLength="37.56" lengthAdjust="spacingAndGlyphs">(c)</text>
<text transform="translate(31.70,853.20) rotate(-90)" x="0" y="0" font-family="Liberation Serif" font-size="29.5" textLength="187.80" lengthAdjust="spacingAndGlyphs" stroke="#fff" stroke-width="0.35">Mode number</text>
<text transform="translate(31.80,1079.10) rotate(-90)" x="0" y="0" font-family="Liberation Serif" font-size="28.5" textLength="119.40" lengthAdjust="spacingAndGlyphs" stroke="#fff" stroke-width="0.35">Intensity</text>
<text transform="translate(66.60,1098.60) rotate(-90)" x="0" y="0" font-family="Liberation Serif" font-size="28.5" textLength="159.10" lengthAdjust="spacingAndGlyphs" stroke="#fff" stroke-width="0.35">(arb. units)</text>
<text x="173.90" y="1149.10" font-family="Liberation Serif" font-size="29" textLength="229.60" lengthAdjust="spacingAndGlyphs" stroke="#fff" stroke-width="0.35">Wavelength (nm)</text>
<path d="M98.0,1076.4 C102.3,1076.2 115.1,1075.7 123.7,1075.4 C132.3,1075.1 140.8,1074.9 149.4,1074.5 C158.0,1074.1 166.6,1073.7 175.2,1073.2 C183.8,1072.7 195.1,1071.8 200.9,1071.5 C206.7,1071.2 207.5,1071.5 210.0,1071.4 C212.5,1071.3 214.2,1071.3 215.8,1070.9 C217.4,1070.5 218.3,1069.6 219.6,1069.0 C220.9,1068.4 222.3,1067.6 223.5,1067.5 C224.7,1067.4 225.8,1068.7 226.9,1068.5 C228.0,1068.3 229.0,1067.9 229.8,1066.1 C230.6,1064.3 231.1,1061.7 231.7,1057.9 C232.3,1054.1 232.9,1048.6 233.6,1043.4 C234.2,1038.2 234.9,1030.7 235.6,1027.0 C236.2,1023.3 236.9,1021.7 237.5,1021.2 C238.1,1020.7 238.3,1020.9 238.9,1024.1 C239.5,1027.3 240.2,1034.5 240.9,1040.5 C241.6,1046.5 242.4,1055.5 243.3,1059.8 C244.2,1064.1 245.2,1065.1 246.2,1066.6 C247.2,1068.0 248.1,1068.5 249.1,1068.5 C250.1,1068.5 251.2,1068.4 252.4,1066.6 C253.6,1064.8 255.0,1060.8 256.3,1057.9 C257.6,1055.0 259.1,1052.7 260.2,1049.2 C261.2,1045.7 261.8,1041.5 262.6,1036.7 C263.4,1031.9 264.4,1024.2 265.0,1020.3 C265.6,1016.4 265.9,1014.3 266.4,1013.5 C266.9,1012.7 267.5,1014.3 267.9,1015.4 C268.3,1016.5 268.2,1019.2 268.8,1020.3 C269.4,1021.3 270.5,1019.9 271.3,1021.7 C272.1,1023.5 272.8,1027.1 273.7,1030.9 C274.6,1034.7 275.6,1039.9 276.6,1044.4 C277.6,1048.9 278.6,1054.6 279.5,1057.9 C280.4,1061.2 281.1,1062.9 281.9,1064.1 C282.7,1065.3 283.4,1064.5 284.3,1065.1 C285.2,1065.7 286.2,1067.4 287.2,1067.5 C288.2,1067.6 289.5,1067.5 290.5,1065.6 C291.5,1063.7 292.3,1059.9 293.0,1055.9 C293.7,1051.9 294.3,1044.8 294.9,1041.5 C295.5,1038.2 296.0,1037.3 296.8,1036.2 C297.6,1035.1 298.9,1035.9 299.8,1034.7 C300.7,1033.5 301.2,1033.6 302.0,1029.3 C302.8,1025.0 303.8,1014.4 304.6,1008.9 C305.4,1003.4 306.3,997.5 307.0,996.1 C307.7,994.7 308.2,997.0 308.9,1000.4 C309.6,1003.8 310.3,1009.4 311.1,1016.4 C311.9,1023.4 312.7,1035.6 313.8,1042.2 C314.9,1048.8 316.4,1053.4 317.5,1056.1 C318.6,1058.8 319.5,1057.1 320.7,1058.2 C321.9,1059.3 323.1,1061.7 324.5,1062.5 C325.9,1063.3 327.6,1062.6 329.3,1063.1 C331.0,1063.5 333.1,1065.1 334.7,1065.2 C336.3,1065.3 337.6,1066.7 338.9,1063.6 C340.1,1060.5 341.1,1056.2 342.2,1046.5 C343.3,1036.8 344.4,1017.6 345.4,1005.7 C346.4,993.8 347.2,979.0 348.1,975.2 C349.0,971.5 349.8,977.8 350.7,983.2 C351.6,988.7 352.4,996.6 353.4,1007.9 C354.4,1019.1 355.4,1040.4 356.6,1050.7 C357.8,1061.0 358.9,1066.1 360.4,1069.5 C361.9,1072.9 363.6,1070.8 365.7,1071.1 C367.8,1071.4 370.9,1072.2 373.2,1071.1 C375.5,1070.0 378.0,1066.4 379.7,1064.7 C381.4,1063.0 382.0,1060.4 383.4,1060.9 C384.8,1061.4 386.4,1066.0 388.2,1067.9 C390.0,1069.8 391.9,1071.4 394.3,1072.2 C396.8,1073.0 399.3,1072.7 402.9,1072.8 C406.5,1072.9 410.7,1073.0 415.7,1073.0 C420.7,1073.0 427.2,1072.9 432.9,1073.0 C438.6,1073.1 444.1,1073.2 450.0,1073.4 C455.9,1073.6 465.0,1073.8 468.0,1073.9" fill="none" stroke="#00ff00" stroke-width="2.3" stroke-linejoin="round" stroke-linecap="round"/>
<line x1="534.80" y1="613.00" x2="649.30" y2="613.00" stroke="#ff0000" stroke-width="1.0" stroke-dasharray="2.6 1.0"/>
<line x1="631.70" y1="601.00" x2="631.70" y2="1045.30" stroke="#ff0000" stroke-width="1.0" stroke-dasharray="2.6 1.0"/>
<line x1="539.00" y1="815.20" x2="711.90" y2="815.20" stroke="#0000ff" stroke-width="1.0" stroke-dasharray="2.6 1.0"/>
<line x1="539.00" y1="836.50" x2="813.70" y2="836.50" stroke="#0000ff" stroke-width="1.0" stroke-dasharray="2.6 1.0"/>
<line x1="704.70" y1="797.30" x2="704.70" y2="957.30" stroke="#0000ff" stroke-width="1.0" stroke-dasharray="2.6 1.0"/>
<line x1="795.70" y1="826.70" x2="795.70" y2="1015.20" stroke="#0000ff" stroke-width="1.0" stroke-dasharray="2.6 1.0"/>
<line x1="538.80" y1="741.20" x2="909.40" y2="741.20" stroke="#000" stroke-width="1.3" />
<line x1="538.80" y1="911.90" x2="909.40" y2="911.90" stroke="#000" stroke-width="1.3" />
<line x1="538.80" y1="741.20" x2="538.80" y2="734.60" stroke="#000" stroke-width="1.4" />
<line x1="631.45" y1="741.20" x2="631.45" y2="734.60" stroke="#000" stroke-width="1.4" />
<line x1="724.10" y1="741.20" x2="724.10" y2="734.60" stroke="#000" stroke-width="1.4" />
<line x1="816.75" y1="741.20" x2="816.75" y2="734.60" stroke="#000" stroke-width="1.4" />
<line x1="909.40" y1="741.20" x2="909.40" y2="734.60" stroke="#000" stroke-width="1.4" />
<line x1="585.12" y1="741.20" x2="585.12" y2="737.40" stroke="#000" stroke-width="1.4" />
<line x1="677.77" y1="741.20" x2="677.77" y2="737.40" stroke="#000" stroke-width="1.4" />
<line x1="770.42" y1="741.20" x2="770.42" y2="737.40" stroke="#000" stroke-width="1.4" />
<line x1="863.08" y1="741.20" x2="863.08" y2="737.40" stroke="#000" stroke-width="1.4" />
<line x1="538.80" y1="911.90" x2="538.80" y2="905.30" stroke="#000" stroke-width="1.4" />
<line x1="631.45" y1="911.90" x2="631.45" y2="905.30" stroke="#000" stroke-width="1.4" />
<line x1="724.10" y1="911.90" x2="724.10" y2="905.30" stroke="#000" stroke-width="1.4" />
<line x1="816.75" y1="911.90" x2="816.75" y2="905.30" stroke="#000" stroke-width="1.4" />
<line x1="909.40" y1="911.90" x2="909.40" y2="905.30" stroke="#000" stroke-width="1.4" />
<line x1="585.12" y1="911.90" x2="585.12" y2="908.10" stroke="#000" stroke-width="1.4" />
<line x1="677.77" y1="911.90" x2="677.77" y2="908.10" stroke="#000" stroke-width="1.4" />
<line x1="770.42" y1="911.90" x2="770.42" y2="908.10" stroke="#000" stroke-width="1.4" />
<line x1="863.08" y1="911.90" x2="863.08" y2="908.10" stroke="#000" stroke-width="1.4" />
<line x1="538.80" y1="1083.80" x2="538.80" y2="1077.20" stroke="#000" stroke-width="1.4" />
<line x1="631.45" y1="1083.80" x2="631.45" y2="1077.20" stroke="#000" stroke-width="1.4" />
<line x1="724.10" y1="1083.80" x2="724.10" y2="1077.20" stroke="#000" stroke-width="1.4" />
<line x1="816.75" y1="1083.80" x2="816.75" y2="1077.20" stroke="#000" stroke-width="1.4" />
<line x1="909.40" y1="1083.80" x2="909.40" y2="1077.20" stroke="#000" stroke-width="1.4" />
<line x1="585.12" y1="1083.80" x2="585.12" y2="1080.00" stroke="#000" stroke-width="1.4" />
<line x1="677.77" y1="1083.80" x2="677.77" y2="1080.00" stroke="#000" stroke-width="1.4" />
<line x1="770.42" y1="1083.80" x2="770.42" y2="1080.00" stroke="#000" stroke-width="1.4" />
<line x1="863.08" y1="1083.80" x2="863.08" y2="1080.00" stroke="#000" stroke-width="1.4" />
<line x1="538.80" y1="570.10" x2="909.40" y2="570.10" stroke="#000" stroke-width="1.9" stroke-linecap="square"/>
<line x1="538.80" y1="1083.80" x2="909.40" y2="1083.80" stroke="#000" stroke-width="1.9" stroke-linecap="square"/>
<line x1="538.80" y1="570.10" x2="538.80" y2="1083.80" stroke="#000" stroke-width="1.9" stroke-linecap="square"/>
<line x1="909.40" y1="570.10" x2="909.40" y2="1083.80" stroke="#000" stroke-width="1.9" stroke-linecap="square"/>
<line x1="538.80" y1="613.00" x2="546.00" y2="613.00" stroke="#000" stroke-width="1.6" />
<line x1="538.80" y1="698.20" x2="546.00" y2="698.20" stroke="#000" stroke-width="1.6" />
<line x1="538.80" y1="655.60" x2="543.20" y2="655.60" stroke="#000" stroke-width="1.6" />
<line x1="538.80" y1="740.80" x2="543.20" y2="740.80" stroke="#000" stroke-width="1.6" />
<line x1="538.80" y1="741.00" x2="546.00" y2="741.00" stroke="#000" stroke-width="1.6" />
<line x1="538.80" y1="790.00" x2="546.00" y2="790.00" stroke="#000" stroke-width="1.6" />
<line x1="538.80" y1="839.00" x2="546.00" y2="839.00" stroke="#000" stroke-width="1.6" />
<line x1="538.80" y1="888.00" x2="546.00" y2="888.00" stroke="#000" stroke-width="1.6" />
<line x1="538.80" y1="765.50" x2="543.20" y2="765.50" stroke="#000" stroke-width="1.6" />
<line x1="538.80" y1="814.50" x2="543.20" y2="814.50" stroke="#000" stroke-width="1.6" />
<line x1="538.80" y1="863.50" x2="543.20" y2="863.50" stroke="#000" stroke-width="1.6" />
<line x1="538.80" y1="937.20" x2="546.00" y2="937.20" stroke="#000" stroke-width="1.6" />
<line x1="538.80" y1="986.20" x2="546.00" y2="986.20" stroke="#000" stroke-width="1.6" />
<line x1="538.80" y1="1035.30" x2="546.00" y2="1035.30" stroke="#000" stroke-width="1.6" />
<line x1="538.80" y1="961.50" x2="543.20" y2="961.50" stroke="#000" stroke-width="1.6" />
<line x1="538.80" y1="1010.60" x2="543.20" y2="1010.60" stroke="#000" stroke-width="1.6" />
<line x1="538.80" y1="1059.50" x2="543.20" y2="1059.50" stroke="#000" stroke-width="1.6" />
<text x="532.10" y="621.80" font-family="Liberation Serif" font-size="24.3" text-anchor="end" textLength="38.60" lengthAdjust="spacingAndGlyphs">112</text>
<text x="532.10" y="707.00" font-family="Liberation Serif" font-size="24.3" text-anchor="end" textLength="38.60" lengthAdjust="spacingAndGlyphs">110</text>
<text x="532.10" y="749.80" font-family="Liberation Serif" font-size="24.3" text-anchor="end" textLength="38.60" lengthAdjust="spacingAndGlyphs">114</text>
<text x="532.10" y="798.80" font-family="Liberation Serif" font-size="24.3" text-anchor="end" textLength="38.60" lengthAdjust="spacingAndGlyphs">112</text>
<text x="532.10" y="847.80" font-family="Liberation Serif" font-size="24.3" text-anchor="end" textLength="38.60" lengthAdjust="spacingAndGlyphs">110</text>
<text x="532.10" y="896.80" font-family="Liberation Serif" font-size="24.3" text-anchor="end" textLength="38.50" lengthAdjust="spacingAndGlyphs">108</text>
<text x="538.50" y="1106.50" font-family="Liberation Serif" font-size="24.3" text-anchor="middle" textLength="38.70" lengthAdjust="spacingAndGlyphs">368</text>
<text x="631.15" y="1106.50" font-family="Liberation Serif" font-size="24.3" text-anchor="middle" textLength="38.70" lengthAdjust="spacingAndGlyphs">370</text>
<text x="723.80" y="1106.50" font-family="Liberation Serif" font-size="24.3" text-anchor="middle" textLength="38.70" lengthAdjust="spacingAndGlyphs">372</text>
<text x="816.45" y="1106.50" font-family="Liberation Serif" font-size="24.3" text-anchor="middle" textLength="38.70" lengthAdjust="spacingAndGlyphs">374</text>
<text x="909.10" y="1106.50" font-family="Liberation Serif" font-size="24.3" text-anchor="middle" textLength="38.70" lengthAdjust="spacingAndGlyphs">376</text>
<polyline points="538.80,573.30 561.96,582.67 585.12,592.01 608.29,601.33 631.45,610.62 654.61,619.89 677.77,629.13 700.94,638.35 724.10,647.54 747.26,656.71 770.42,665.85 793.59,674.97 816.75,684.06 839.91,693.13 863.08,702.18 886.24,711.20 909.40,720.20" fill="none" stroke="#ff0000" stroke-width="2.4" stroke-linecap="round"/>
<polyline points="538.80,777.60 561.96,782.94 585.12,788.27 608.29,793.59 631.45,798.89 654.61,804.18 677.77,809.45 700.94,814.71 724.10,819.95 747.26,825.18 770.42,830.40 793.59,835.60 816.75,840.79 839.91,845.96 863.08,851.12 886.24,856.27 909.40,861.40" fill="none" stroke="#0000ff" stroke-width="2.4" stroke-linecap="round"/>
<line x1="834.60" y1="596.40" x2="869.20" y2="596.40" stroke="#ff0000" stroke-width="2.4" />
<text x="873.60" y="602.30" font-family="Liberation Serif" font-size="24.5" textLength="14.00" lengthAdjust="spacingAndGlyphs" font-style="italic">d</text>
<text x="888.40" y="606.00" font-family="Liberation Serif" font-size="17" textLength="9.60" lengthAdjust="spacingAndGlyphs">2</text>
<line x1="839.00" y1="773.30" x2="873.90" y2="773.30" stroke="#0000ff" stroke-width="2.4" />
<text x="882.10" y="779.40" font-family="Liberation Serif" font-size="24.5" textLength="14.00" lengthAdjust="spacingAndGlyphs" font-style="italic">d</text>
<text x="895.60" y="783.70" font-family="Liberation Serif" font-size="17" textLength="9.60" lengthAdjust="spacingAndGlyphs">1</text>
<text x="799.43" y="948.80" font-family="Liberation Serif" font-size="22" textLength="21.62" lengthAdjust="spacingAndGlyphs">@</text>
<text x="821.23" y="952.40" font-family="Liberation Serif" font-size="26" textLength="35.32" lengthAdjust="spacingAndGlyphs">1.5</text>
<text x="862.20" y="952.40" font-family="Liberation Serif" font-size="26" textLength="12.56" lengthAdjust="spacingAndGlyphs">μ</text>
<text x="877.00" y="952.40" font-family="Liberation Serif" font-size="26" textLength="26.61" lengthAdjust="spacingAndGlyphs">W</text>
<text x="552.17" y="1053.50" font-family="Liberation Serif" font-size="32" textLength="42.32" lengthAdjust="spacingAndGlyphs">(d)</text>
<text transform="translate(493.30,1061.40) rotate(-90)" x="0" y="0" font-family="Liberation Serif" font-size="28.5" textLength="118.60" lengthAdjust="spacingAndGlyphs" stroke="#fff" stroke-width="0.35">Intensity</text>
<text transform="translate(528.20,1080.80) rotate(-90)" x="0" y="0" font-family="Liberation Serif" font-size="28.5" textLength="158.20" lengthAdjust="spacingAndGlyphs" stroke="#fff" stroke-width="0.35">(arb. units)</text>
<text x="613.90" y="1149.30" font-family="Liberation Serif" font-size="29" textLength="228.80" lengthAdjust="spacingAndGlyphs" stroke="#fff" stroke-width="0.35">Wavelength (nm)</text>
<path d="M539.0,1079.3 C542.8,1079.2 554.0,1079.1 561.5,1079.0 C569.0,1078.9 576.8,1078.8 584.0,1078.7 C591.2,1078.6 600.2,1079.0 605.0,1078.3 C609.8,1077.6 610.2,1076.6 612.5,1074.5 C614.8,1072.4 616.5,1070.5 618.5,1065.5 C620.5,1060.5 622.8,1050.8 624.5,1044.5 C626.2,1038.2 627.8,1031.1 629.0,1028.0 C630.2,1024.9 630.9,1025.5 632.0,1025.8 C633.1,1026.0 634.3,1025.9 635.8,1029.5 C637.3,1033.1 639.4,1041.0 641.0,1047.5 C642.6,1054.0 644.0,1063.8 645.5,1068.5 C647.0,1073.2 647.8,1074.4 650.0,1076.0 C652.2,1077.6 655.7,1078.0 659.0,1078.3 C662.3,1078.6 665.7,1078.3 670.0,1077.8 C674.3,1077.3 680.9,1077.2 684.6,1075.1 C688.3,1072.9 690.0,1071.2 692.0,1064.9 C694.0,1058.6 695.1,1049.0 696.3,1037.1 C697.5,1025.1 698.4,1006.6 699.3,993.2 C700.2,979.8 700.8,965.4 701.5,956.6 C702.2,947.8 703.1,942.6 703.7,940.5 C704.3,938.4 704.6,944.1 705.1,944.1 C705.6,944.1 705.9,936.0 706.6,940.5 C707.3,945.0 708.5,959.5 709.5,971.2 C710.5,982.9 711.4,1000.7 712.4,1010.7 C713.4,1020.7 714.3,1026.3 715.4,1031.2 C716.5,1036.1 717.9,1040.0 719.0,1040.0 C720.1,1040.0 721.0,1033.8 722.0,1031.2 C723.0,1028.6 723.8,1025.1 724.9,1024.6 C726.0,1024.1 727.1,1025.0 728.5,1028.3 C729.9,1031.6 731.5,1038.3 733.0,1044.4 C734.5,1050.5 735.6,1059.8 737.3,1064.9 C739.0,1070.0 741.0,1073.4 743.2,1075.1 C745.4,1076.8 747.6,1074.9 750.5,1075.1 C753.4,1075.3 757.5,1076.4 760.7,1076.3 C764.0,1076.2 767.5,1075.7 770.0,1074.5 C772.5,1073.3 774.2,1071.5 776.0,1069.3 C777.8,1067.0 779.0,1065.4 780.5,1061.0 C782.0,1056.6 783.5,1050.2 785.0,1043.0 C786.5,1035.8 788.2,1025.0 789.5,1017.5 C790.8,1010.0 791.5,1002.1 792.5,998.0 C793.5,993.9 794.5,992.3 795.5,992.8 C796.5,993.3 797.5,995.9 798.5,1001.0 C799.5,1006.1 800.4,1014.0 801.5,1023.5 C802.6,1033.0 804.0,1049.8 805.3,1058.0 C806.5,1066.2 807.4,1069.8 809.0,1073.0 C810.6,1076.2 811.5,1076.8 815.0,1077.5 C818.5,1078.2 822.5,1077.5 830.0,1077.5 C837.5,1077.5 846.8,1077.4 860.0,1077.5 C873.2,1077.6 900.8,1077.9 909.0,1078.0" fill="none" stroke="#0000ff" stroke-width="2.3" stroke-linejoin="round" stroke-linecap="round"/>
</svg></body></html>
